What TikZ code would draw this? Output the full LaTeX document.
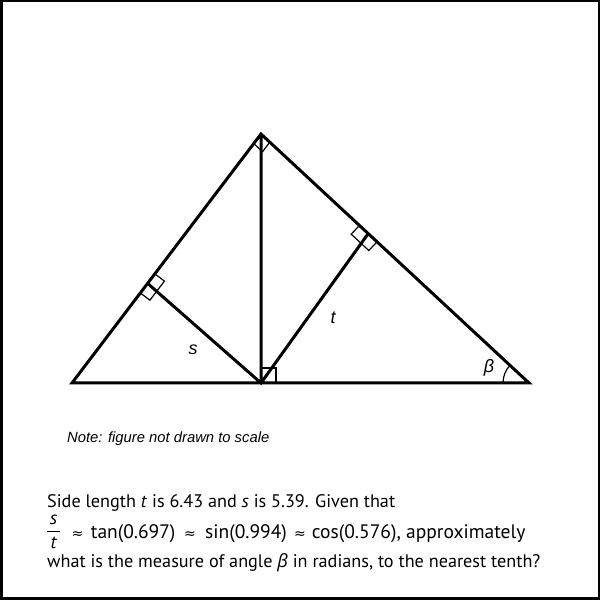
\documentclass[tikz,border=0pt]{standalone}
\usepackage{amsmath,amssymb}
\usepackage{fontspec}
\setmainfont{PT Sans}
\newfontfamily\figfont{Liberation Sans}
\newfontfamily\grkfont{Open Sans}
\newfontfamily\symfont{DejaVu Sans}
\usetikzlibrary{calc,angles}

\begin{document}
\begin{tikzpicture}[x=1pt,y=1pt]
\tikzset{side/.style={line width=3pt,line cap=round,line join=miter},
  ramark/.style={line width=1.2pt},
  lbl/.style={font=\figfont\fontsize{18}{20}\selectfont\itshape,inner sep=0pt},
  txt/.style={font=\fontsize{18.2}{20}\selectfont,anchor=base west,inner sep=0pt},
  eqtxt/.style={font=\fontsize{19.5}{21}\selectfont,anchor=base west,inner sep=0pt},
  frac/.style={font=\fontsize{18.5}{20}\selectfont\itshape,inner sep=0pt},
  apx/.style={font=\symfont\fontsize{14}{16}\selectfont,anchor=base west,inner sep=0pt}}
\useasboundingbox (0,0) rectangle (600,600);
\draw[line width=2.5pt] (1.25,1.25) rectangle (598.75,598.75);
\coordinate (L) at (72,217);
\coordinate (A) at (261,466);
\coordinate (R) at (529,217);
\coordinate (D) at (261,217);
\coordinate (P) at ($(L)!.4!(A)$);
\coordinate (Q) at ($(A)!.4!(R)$);
% right angle marks
\coordinate (Pa) at ($(P)!12pt!(A)$);
\coordinate (Pl) at ($(P)!12pt!(L)$);
\coordinate (Pn) at ($(P)!12pt!-90:(A)$);
\draw[ramark] (Pa)--($(Pa)+(Pn)-(P)$)--(Pn)--($(Pl)+(Pn)-(P)$)--(Pl);
\coordinate (Qa) at ($(Q)!12pt!(A)$);
\coordinate (Qr) at ($(Q)!12pt!(R)$);
\coordinate (Qn) at ($(Q)!12pt!90:(A)$);
\draw[ramark] (Qa)--($(Qa)+(Qn)-(Q)$)--(Qn)--($(Qr)+(Qn)-(Q)$)--(Qr);
\coordinate (Al) at ($(A)!12pt!(L)$);
\coordinate (Ar) at ($(A)!12pt!(R)$);
\draw[ramark] (Al)--($(Al)+(Ar)-(A)$)--(Ar);
\draw[ramark] ($(D)+(0,15)$)--($(D)+(15,15)$)--($(D)+(15,0)$);
\pic[draw,ramark,angle radius=26pt] {angle=A--R--L};
% triangle
\draw[side] (L)--(A)--(R)--cycle (A)--(D) (P)--(D)--(Q);
\node[lbl] (s) at (193,250) {s};
\node[lbl] (t) at (333,282) {t};
\node[lbl] (beta) at (489,232) {β};
% text
\node[anchor=base west,inner sep=0pt,font=\figfont\fontsize{14.8}{16}\selectfont\itshape] (note) at (67,157.5) {Note: figure not drawn to scale};
\node[txt] (line1) at (47,92) {Side length \textit{t} is 6.43 and \textit{s} is 5.39. Given that};
\node[frac] (frs) at (53.6,80) {s};
\node[frac] (frt) at (53.6,57) {t};
\coordinate (barl) at (47.3,68.5);
\coordinate (barr) at (60,68.5);
\draw[line width=0.9pt] (barl)--(barr);
\node[apx] (ap1) at (71.5,61) {≈};
\node[eqtxt] (tanv) at (90.7,61) {tan(0.697)};
\node[apx] (ap2) at (184,61) {≈};
\node[eqtxt] (sinv) at (205,61) {sin(0.994)};
\node[apx] (ap3) at (294,61) {≈};
\node[eqtxt] (cosv) at (311.7,61) {cos(0.576), approximately};
\node[txt] (line3) at (47,32) {what is the measure of angle {\grkfont\itshape β} in radians, to the nearest tenth?};
\end{tikzpicture}
\end{document}
